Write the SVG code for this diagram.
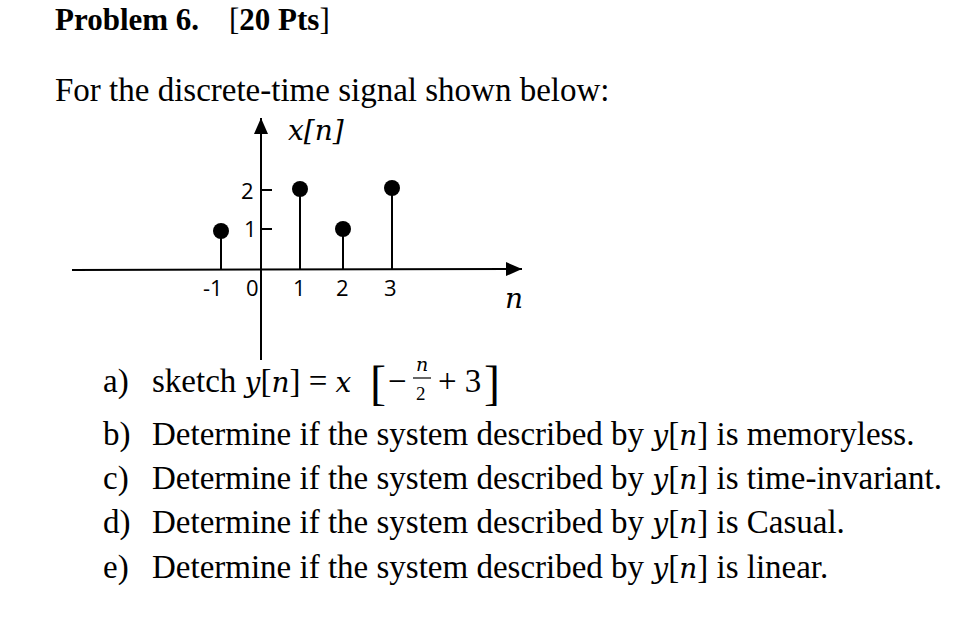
<svg xmlns="http://www.w3.org/2000/svg" width="959" height="622" viewBox="0 0 959 622">
<style>
.t{font-family:"Liberation Serif",serif;font-size:33px;fill:#000}
.m{font-family:"DejaVu Serif","Liberation Serif",serif;font-style:italic;font-size:28px}
.s{font-family:"Open Sans","DejaVu Sans",sans-serif;font-size:22px;fill:#000}
.ln{stroke:#000;stroke-width:2;fill:none}
</style>
<defs>
<marker id="ar2" markerWidth="16" markerHeight="14" refX="16" refY="7" orient="auto" markerUnits="userSpaceOnUse"><path d="M0,0L16,7L0,14z" fill="#000"/></marker></defs>
<text class="t" x="55" y="30" style="font-size:31px;font-weight:bold">Problem 6.</text>
<text class="t" x="229" y="30" style="font-size:31px">[<tspan font-weight="bold">20 Pts</tspan>]</text>
<text class="t" x="55" y="101">For the discrete-time signal shown below:</text>
<g id="axes">
<line class="ln" x1="72" y1="270" x2="522" y2="269" marker-end="url(#ar2)"/>
<line class="ln" x1="261" y1="360" x2="261" y2="118" marker-end="url(#ar2)"/>
<line class="ln" x1="261" y1="190" x2="272" y2="190"/>
<line class="ln" x1="261" y1="229" x2="272" y2="229"/>
</g>
<text class="t m" x="288" y="140" style="font-size:28px">x[n]</text>
<text class="t m" x="505" y="308" style="font-size:28px">n</text>
<text class="s" x="241" y="199">2</text>
<text class="s" x="244" y="237">1</text>
<text class="s" x="203" y="296">-1</text>
<text class="s" x="246" y="296">0</text>
<text class="s" x="293" y="296">1</text>
<text class="s" x="336" y="296">2</text>
<text class="s" x="384" y="296">3</text>
<g id="stems">
<line class="ln" x1="221" y1="270" x2="221" y2="231"/><circle cx="221" cy="231" r="8"/>
<line class="ln" x1="300" y1="270" x2="300" y2="189"/><circle cx="300" cy="189" r="8"/>
<line class="ln" x1="343" y1="270" x2="343" y2="229"/><circle cx="343" cy="229" r="8"/>
<line class="ln" x1="392" y1="270" x2="392" y2="188"/><circle cx="392" cy="188" r="8"/>
</g>
<text class="t" x="103" y="392">a)</text>
<text class="t" x="152" y="392">sketch <tspan class="m">y</tspan>[<tspan class="m">n</tspan>] = <tspan class="m">x</tspan></text>
<text class="t" x="370" y="399" style="font-size:48px">[</text>
<text class="t" x="388" y="392">−</text>
<text class="t m" x="416" y="371" style="font-size:19px">n</text>
<line x1="413" y1="378" x2="431" y2="378" stroke="#000" stroke-width="1.2"/>
<text class="t" x="416" y="400" style="font-size:19px">2</text>
<text class="t" x="438" y="392">+ 3</text>
<text class="t" x="484" y="399" style="font-size:48px">]</text>
<text class="t" x="103" y="445">b)</text><text class="t" x="152" y="445">Determine if the system described by <tspan class="m">y</tspan>[<tspan class="m">n</tspan>] is memoryless.</text>
<text class="t" x="103" y="489">c)</text><text class="t" x="152" y="489">Determine if the system described by <tspan class="m">y</tspan>[<tspan class="m">n</tspan>] is time-invariant.</text>
<text class="t" x="103" y="533">d)</text><text class="t" x="152" y="533">Determine if the system described by <tspan class="m">y</tspan>[<tspan class="m">n</tspan>] is Casual.</text>
<text class="t" x="103" y="578">e)</text><text class="t" x="152" y="578">Determine if the system described by <tspan class="m">y</tspan>[<tspan class="m">n</tspan>] is linear.</text>
</svg>
